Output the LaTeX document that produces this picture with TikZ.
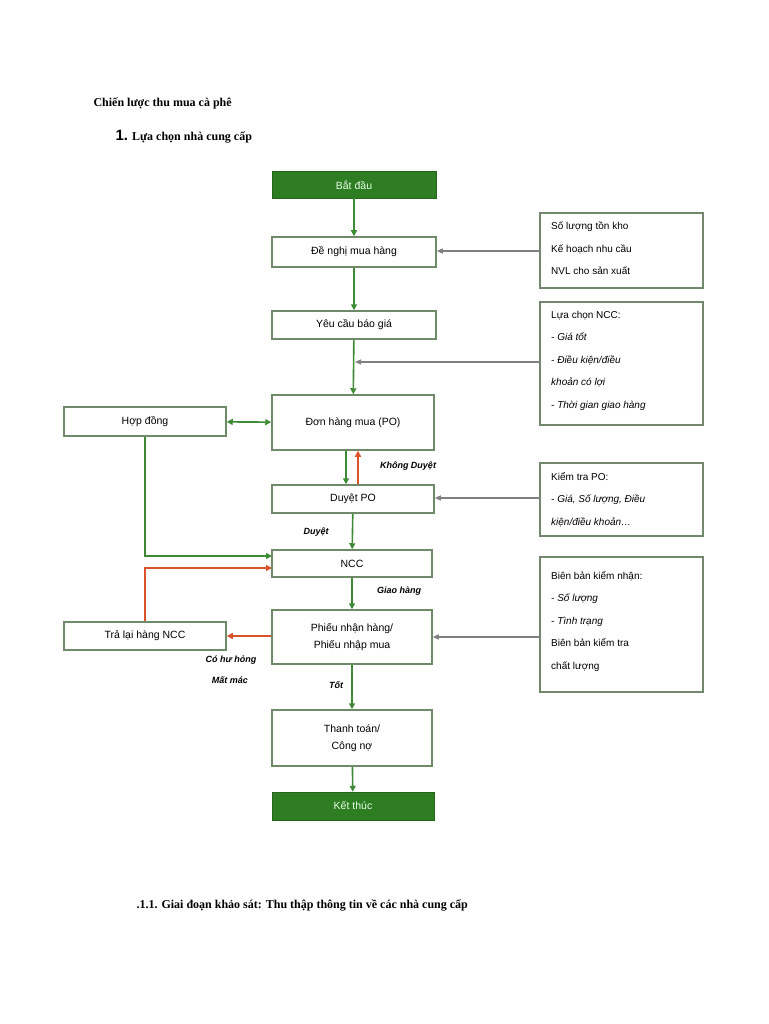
\documentclass[tikz,border=0pt]{standalone}
\usepackage{fontspec}
\setmainfont{Liberation Serif}
\newfontfamily\dsans{Liberation Sans}
\usetikzlibrary{arrows.meta}
\definecolor{gfill}{HTML}{2E7D22}
\definecolor{gline}{HTML}{3F8A35}
\definecolor{bline}{HTML}{6E8A68}
\definecolor{rline}{HTML}{D9532B}
\begin{document}
\begin{tikzpicture}[x=1pt,y=-1pt,
  box/.style={draw=bline,line width=1.5pt,inner sep=0pt,font=\dsans\fontsize{10.5}{17}\selectfont,align=center},
  gbox/.style={fill=gfill,draw=gfill!80!black,inner sep=0pt,text=white!90!green,font=\dsans\fontsize{10.5}{12}\selectfont},
  sbox/.style={draw=bline!70!gray,line width=1.5pt},
  side/.style={inner sep=0pt,font=\dsans\fontsize{10}{22.5}\selectfont,align=left,anchor=north west},
  ga/.style={draw=gline,line width=1.6pt,-{Triangle[length=6pt,width=6pt]}},
  ra/.style={draw=rline,line width=1.6pt,-{Triangle[length=6pt,width=6pt]}},
  sa/.style={draw=gray,line width=1.1pt,-{Triangle[length=6pt,width=5pt]}},
  lab/.style={font=\dsans\bfseries\itshape\fontsize{9}{10}\selectfont}]
\useasboundingbox (0,0) rectangle (768,1024);
\node[anchor=west,font=\bfseries\fontsize{12}{14}\selectfont] (t1) at (90,103) {Chiến lược thu mua cà phê};
\node[anchor=west,font=\bfseries\fontsize{12}{14}\selectfont] (t2) at (112,137) {{\dsans\fontsize{15}{15}\selectfont 1.} Lựa chọn nhà cung cấp};
\node[anchor=west,font=\bfseries\fontsize{12}{14}\selectfont] (t3) at (133,905) {.1.1. Giai đoạn khảo sát: Thu thập thông tin về các nhà cung cấp};

\node[gbox,minimum width=164pt,minimum height=27pt] (start) at (354,184.5) {Bắt đầu};
\node[box,minimum width=164pt,minimum height=30pt] (dn) at (354,252) {Đề nghị mua hàng};
\node[box,minimum width=164pt,minimum height=28pt] (yc) at (354,325) {Yêu cầu báo giá};
\node[box,minimum width=162pt,minimum height=55pt] (po) at (353,422.5) {Đơn hàng mua (PO)};
\node[box,minimum width=162pt,minimum height=29pt] (hd) at (145,421.5) {Hợp đồng};
\node[box,minimum width=162pt,minimum height=28pt] (dpo) at (353,499) {Duyệt PO};
\node[box,minimum width=160pt,minimum height=27pt] (ncc) at (352,563.5) {NCC};
\node[box,minimum width=160pt,minimum height=54pt] (pn) at (352,637) {Phiếu nhận hàng/\\Phiếu nhập mua};
\node[box,minimum width=162pt,minimum height=28pt] (tl) at (145,636) {Trả lại hàng NCC};
\node[box,minimum width=160pt,minimum height=56pt] (tt) at (352,738) {Thanh toán/\\Công nợ};
\node[gbox,minimum width=162pt,minimum height=28pt] (end) at (353,806) {Kết thúc};

\draw[sbox] (540,213) rectangle (703,288);
\draw[sbox] (540,302) rectangle (703,425);
\draw[sbox] (540,463) rectangle (703,536);
\draw[sbox] (540,557) rectangle (703,692);
\coordinate (e1) at (540,251);
\coordinate (e2) at (540,362);
\coordinate (e3) at (540,498);
\coordinate (e4) at (540,637);
\node[side] (s1) at (551,222) {Số lượng tồn kho\\Kế hoạch nhu cầu\\NVL cho sản xuất};
\node[side] (s2) at (551,311) {Lựa chọn NCC:\\\textit{- Giá tốt}\\\textit{- Điều kiện/điều}\\\textit{khoản có lợi}\\\textit{- Thời gian giao hàng}};
\node[side] (s3) at (551,472) {Kiểm tra PO:\\\textit{- Giá, Số lượng, Điều}\\\textit{kiện/điều khoản…}};
\node[side] (s4) at (551,571) {Biên bản kiểm nhận:\\\textit{- Số lượng}\\\textit{- Tình trạng}\\Biên bản kiểm tra\\chất lượng};

\coordinate (m1) at (355,362);
\coordinate (ng) at (272,556);
\coordinate (nr) at (272,568);
\draw[ga] (start) -- (dn);
\draw[ga] (dn) -- (yc);
\draw[ga] (yc) -- (po);
\draw[ga,{Triangle[length=6pt,width=6pt]}-{Triangle[length=6pt,width=6pt]}] (hd) -- (po);
\draw[ga] ([xshift=-7pt]po.south) -- ([xshift=-7pt]dpo.north);
\draw[ra] ([xshift=5pt]dpo.north) -- ([xshift=5pt]po.south);
\draw[ga] (dpo) -- (ncc);
\draw[ga] (ncc) -- (pn);
\draw[ga] (pn) -- (tt);
\draw[ga] (tt) -- (end);
\draw[ga] (hd.south) |- (ng);
\draw[ra] (tl.north) |- (nr);
\draw[ra] (pn.west|-tl) -- (tl.east);

\draw[sa] (e1) -- (dn.east|-e1);
\draw[sa] (e2) -- (m1);
\draw[sa] (e3) -- (dpo.east|-e3);
\draw[sa] (e4) -- (pn.east|-e4);

\node[lab] (l1) at (408,466) {Không Duyệt};
\node[lab] (l2) at (316,532) {Duyệt};
\node[lab] (l3) at (399,591) {Giao hàng};
\node[lab] (l4) at (231,660) {Có hư hỏng};
\node[lab] (l5) at (230,680) {Mất mác};
\node[lab] (l6) at (336,685) {Tốt};
\end{tikzpicture}
\end{document}
